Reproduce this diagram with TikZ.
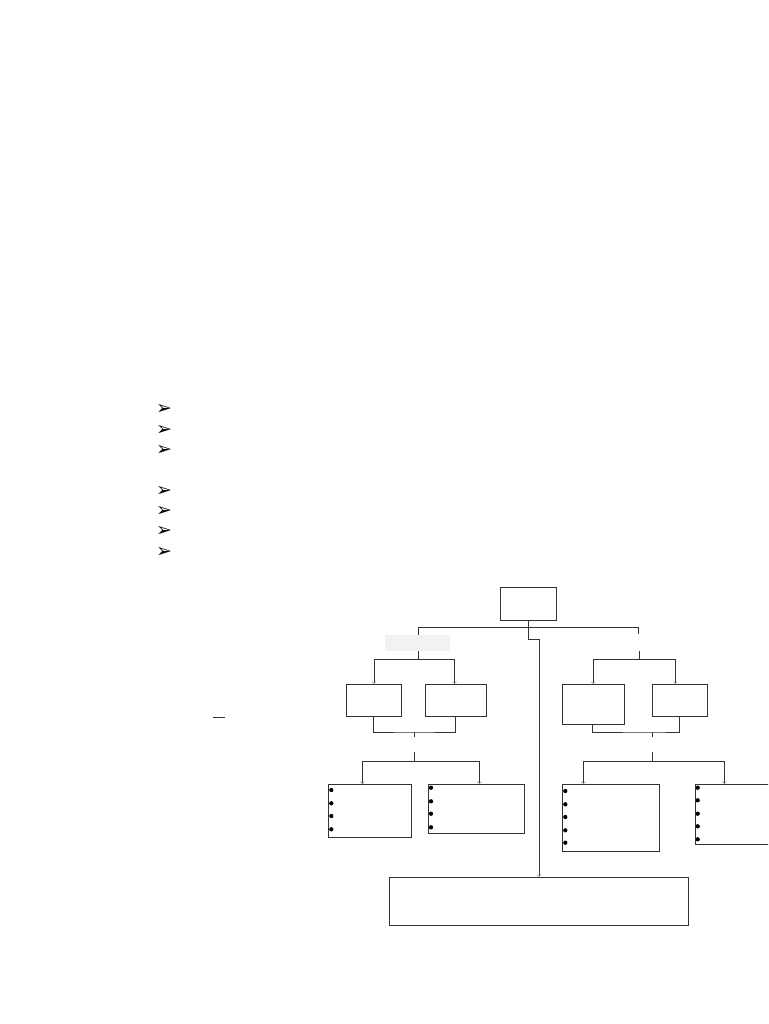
\documentclass[tikz,border=0pt]{standalone}
\usepackage{fontspec}
\newfontfamily\dejavu{DejaVu Sans}
\usetikzlibrary{arrows.meta,calc}
\tikzset{
  box/.style={draw=black!80, line width=0.8pt, rectangle, inner sep=0pt, anchor=north west, fill=white},
  conn/.style={draw=black!80, line width=0.8pt},
  arr/.style={conn, -{Straight Barb[length=2pt,width=4pt,line width=0.5pt,color=black!45]}},
  dot/.style={circle, fill=black, inner sep=0pt, minimum size=4.3pt},
  pointer/.style={inner sep=0pt, font=\dejavu\fontsize{19}{21}\selectfont}
}
\begin{document}
\begin{tikzpicture}[x=1pt,y=-1pt]
\useasboundingbox (0,0) rectangle (768,1024);
\clip (0,0) rectangle (768,1024);

% pointer bullets
\foreach \yy [count=\i] in {409,430,450,491.5,511.5,531.5,552}
  \node[pointer] (p\i) at (164,\yy) {➢};

% small dash
\coordinate (dA) at (213,717);
\coordinate (dB) at (225,717);
\draw[conn] (dA) -- (dB);

% boxes
\node[box, minimum width=56pt, minimum height=33pt] (top) at (500,587) {};
\node[box, minimum width=55pt, minimum height=32pt] (L1) at (346,684) {};
\node[box, minimum width=61pt, minimum height=32pt] (L2) at (425,684) {};
\node[box, minimum width=62pt, minimum height=40pt] (R1) at (562,684) {};
\node[box, minimum width=55pt, minimum height=32pt] (R2) at (652,684) {};
\node[box, minimum width=83pt, minimum height=53pt] (B1) at (328,784) {};
\node[box, minimum width=96pt, minimum height=49pt] (B2) at (428,784) {};
\node[box, minimum width=97pt, minimum height=67pt] (B3) at (562,784) {};
\node[box, minimum width=100pt, minimum height=60pt] (B4) at (695,784) {};
\node[box, minimum width=299pt, minimum height=48pt] (F) at (389,877) {};

% grey label strip
\node[fill=black!5, inner sep=0pt, minimum width=65pt, minimum height=16pt, anchor=north west] (gl) at (384.5,635) {};

% junction coordinates
\coordinate (busL) at (418,627);
\coordinate (busR) at (638,627);
\coordinate (busRe) at (638,634);
\coordinate (rtk) at (639,651);
\coordinate (lj) at (418,659);
\coordinate (rj) at (639,659);
\coordinate (lbj) at (414,732);
\coordinate (lbt) at (414,737);
\coordinate (lbt2) at (414,752);
\coordinate (lbj2) at (414,761);
\coordinate (rbj) at (652,732);
\coordinate (rbt) at (652,737);
\coordinate (rbt2) at (652,752);
\coordinate (rbj2) at (652,761);
\coordinate (l2in) at ($(L2.north west)+(29.5,0)$);
\coordinate (l1out) at ($(L1.south west)+(27,0)$);
\coordinate (l2out) at ($(L2.south west)+(30,0)$);
\coordinate (r1in) at ($(R1.north west)+(31,0)$);
\coordinate (r2in) at ($(R2.north west)+(23,0)$);
\coordinate (r1out) at ($(R1.south west)+(30.5,0)$);
\coordinate (r2out) at ($(R2.south west)+(27,0)$);
\coordinate (b1in) at ($(B1.north west)+(34.3,0)$);
\coordinate (b2in) at ($(B2.north west)+(51.3,0)$);
\coordinate (b3in) at ($(B3.north west)+(21.3,0)$);
\coordinate (b4in) at ($(B4.north west)+(29.3,0)$);

% top connectors
\draw[conn] (busL) -- (busR) -- (busRe);
\draw[arr] (top.south) -- ++(0,19) -| (F.north);
\draw[conn] (busL) -- (gl.north -| busL);
\draw[conn] (gl.south -| busL) -- (lj);
\draw[arr] (lj) -| (L1.north);
\draw[arr] (lj) -| (l2in);
\draw[conn] (rtk) -- (rj);
\draw[arr] (rj) -| (r1in);
\draw[arr] (rj) -| (r2in);

% lower brackets
\draw[conn] (l1out) |- (lbj) -| (l2out);
\draw[conn] (lbj) -- (lbt);
\draw[conn] (lbt2) -- (lbj2);
\draw[arr] (lbj2) -| (b1in);
\draw[arr] (lbj2) -| (b2in);
\draw[conn] (r1out) |- (rbj) -| (r2out);
\draw[conn] (rbj) -- (rbt);
\draw[conn] (rbt2) -- (rbj2);
\draw[arr] (rbj2) -| (b3in);
\draw[arr] (rbj2) -| (b4in);

% bullets in boxes
\foreach \yy [count=\i] in {790,803.3,816,829.3}
  \node[dot] (b1d\i) at (331.3,\yy) {};
\foreach \yy [count=\i] in {787.7,801.3,813.7,827.3}
  \node[dot] (b2d\i) at (431,\yy) {};
\foreach \yy [count=\i] in {791,804.3,817,830.3,842.7}
  \node[dot] (b3d\i) at (565.3,\yy) {};
\foreach \yy [count=\i] in {787.7,800.3,813.7,826.3,839.3}
  \node[dot] (b4d\i) at (697.7,\yy) {};
\end{tikzpicture}
\end{document}
